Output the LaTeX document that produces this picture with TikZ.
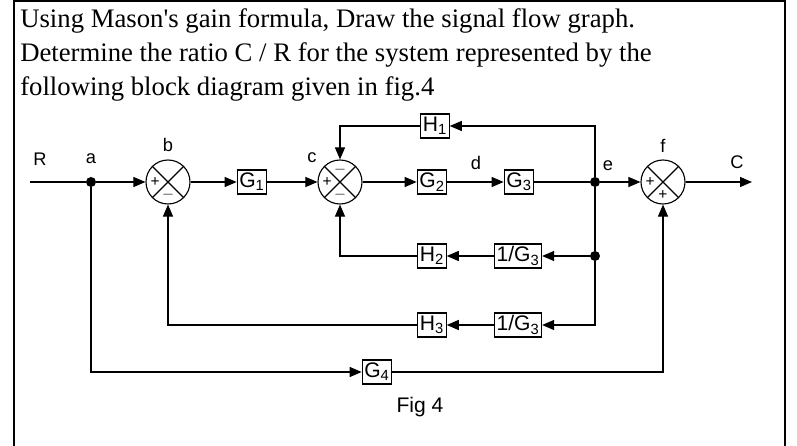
\documentclass[tikz,border=0pt]{standalone}
\usepackage{fontspec}
\setmainfont{Liberation Serif}
\newfontfamily\labelfont{Liberation Sans}
\usepackage{tikz}
\usetikzlibrary{positioning, arrows.meta}
\tikzstyle{block} = [
    rectangle, draw, thick,
    inner sep=1.5pt,
    minimum height=0.6cm,
    font=\labelfont\fontsize{15}{15}\selectfont,
]
\tikzstyle{sumj} = [
    circle, draw, thick,
    minimum size=1.1cm,
    path picture={
        \draw [thick] (path picture bounding box.north west) -- (path picture bounding box.south east);
        \draw [thick] (path picture bounding box.north east) -- (path picture bounding box.south west);
    },
]
\tikzstyle{sign} = [font=\labelfont\fontsize{11}{11}\selectfont, inner sep=0pt]
\tikzstyle{lbl} = [font=\labelfont\fontsize{13}{13}\selectfont]
\tikzstyle{dot} = [circle, fill, inner sep=0pt, minimum size=0.25cm]
\tikzstyle{arrow} = [-{Triangle[length=0.3cm,width=0.25cm]}, thick]
\tikzstyle{wire} = [thick]

\begin{document}
\begin{tikzpicture}[x=0.025cm, y=-0.025cm]
    \useasboundingbox (0,0) rectangle (797,446);
    % frame
    \draw [thick] (14,0) -- (14,446);
    \draw [thick] (785,0) -- (785,446);
    \draw [thick] (14,1) -- (785,1);

    % question
    \node (question) at (20,55) [anchor=west, align=left,
        font=\fontsize{19}{24.5}\selectfont, inner sep=0pt] {Using Mason\textquotesingle s gain formula, Draw the signal flow graph.\\
Determine the ratio C / R for the system represented by the\\
following block diagram given in fig.4};

    % nodes
    \coordinate (in) at (30,182);
    \node (a) at (91,182) [dot] {};
    \node (b) at (168,182) [sumj] {};
    \node (g1) at (252,182) [block] {G\textsubscript{1}};
    \node (c) at (340,182) [sumj] {};
    \node (g2) at (432,182) [block] {G\textsubscript{2}};
    \node (g3) at (519,182) [block] {G\textsubscript{3}};
    \node (e) at (595,182) [dot] {};
    \node (f) at (663,182) [sumj] {};
    \coordinate (out) at (752,182);
    \node (h1) at (435,126) [block] {H\textsubscript{1}};
    \node (h2) at (432,256) [block] {H\textsubscript{2}};
    \node (ig1) at (518,256) [block] {1/G\textsubscript{3}};
    \node (n1) at (595,256) [dot] {};
    \node (h3) at (432,325) [block] {H\textsubscript{3}};
    \node (ig2) at (518,325) [block] {1/G\textsubscript{3}};
    \node (g4) at (377,372) [block] {G\textsubscript{4}};

    % signs
    \node at ([xshift=-0.32cm]b.center) [sign] {+};
    \node at ([yshift=-0.32cm]b.center) [sign] {$-$};
    \node at ([xshift=-0.32cm]c.center) [sign] {+};
    \node at ([yshift=0.32cm]c.center) [sign] {$-$};
    \node at ([yshift=-0.32cm]c.center) [sign] {$-$};
    \node at ([xshift=-0.32cm]f.center) [sign] {+};
    \node at ([yshift=-0.32cm]f.center) [sign] {+};

    % labels
    \node at (40,159) [lbl] {R};
    \node at (91,159) [lbl] {a};
    \node at (168,145) [lbl] {b};
    \node at (312,158) [lbl] {c};
    \node at (476,163) [lbl] {d};
    \node at (608,166) [lbl] {e};
    \node at (663,146) [lbl] {f};
    \node at (737,162) [lbl] {C};
    \node (fig) at (420,407) [font=\labelfont\fontsize{15}{15}\selectfont] {Fig 4};

    % forward path
    \draw [wire] (in) -- (a);
    \draw [arrow] (a) -- (b);
    \draw [arrow] (b) -- (g1);
    \draw [arrow] (g1) -- (c);
    \draw [arrow] (c) -- (g2);
    \draw [arrow] (g2) -- (g3);
    \draw [wire] (g3) -- (e);
    \draw [arrow] (e) -- (f);
    \draw [arrow] (f) -- (out);

    % feedback
    \draw [arrow] (e) |- (h1);
    \draw [arrow] (h1) -| (c);
    \draw [wire] (e) -- (n1);
    \draw [arrow] (n1) -- (ig1);
    \draw [arrow] (ig1) -- (h2);
    \draw [arrow] (h2) -| (c);
    \draw [arrow] (n1) |- (ig2);
    \draw [arrow] (ig2) -- (h3);
    \draw [arrow] (h3) -| (b);

    % feedforward
    \draw [arrow] (a) |- (g4);
    \draw [arrow] (g4) -| (f);
\end{tikzpicture}
\end{document}
